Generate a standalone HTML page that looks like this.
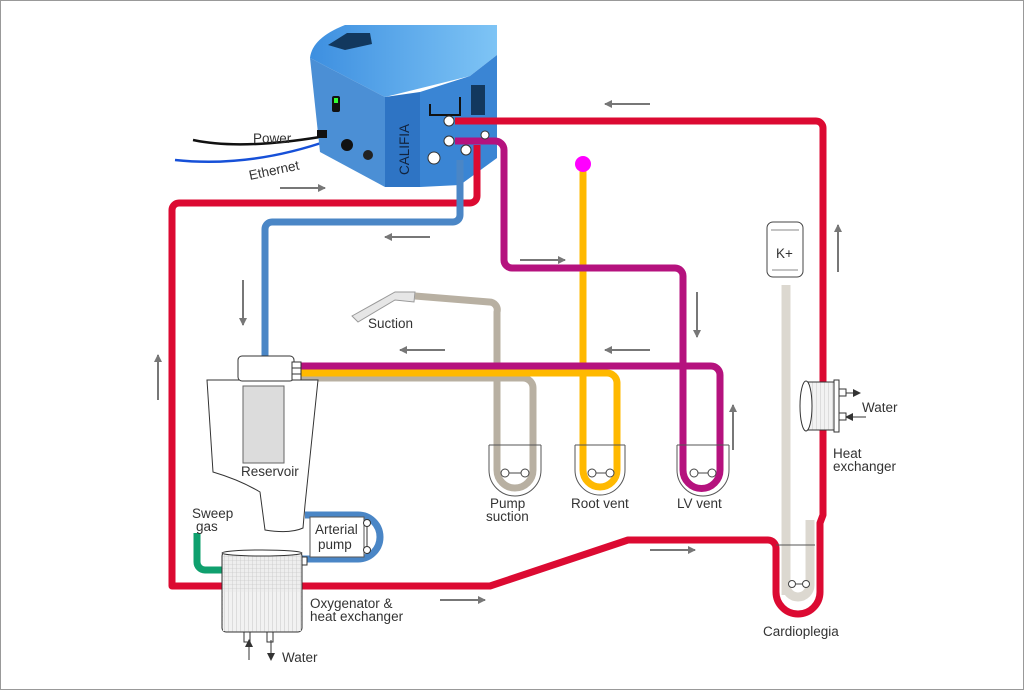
<!DOCTYPE html>
<html><head><meta charset="utf-8"><style>
html,body{margin:0;padding:0;background:#fff;}
svg{display:block;font-family:"Liberation Sans",sans-serif;}
text{fill:#333;font-size:13.5px;}
</style></head><body>
<svg width="1024" height="690" viewBox="0 0 1024 690" xmlns="http://www.w3.org/2000/svg">
<defs>
<marker id="ah" markerWidth="8" markerHeight="8" refX="7" refY="4" orient="auto" markerUnits="userSpaceOnUse"><path d="M0,0 L8,4 L0,8 z" fill="#777"/></marker>
<marker id="bh" markerWidth="8" markerHeight="8" refX="7" refY="4" orient="auto" markerUnits="userSpaceOnUse"><path d="M0,0 L8,4 L0,8 z" fill="#333"/></marker>
<linearGradient id="top" x1="0" y1="0" x2="1" y2="0"><stop offset="0" stop-color="#3d8fe0"/><stop offset="1" stop-color="#7ec4f5"/></linearGradient>
<pattern id="grid" width="4" height="4" patternUnits="userSpaceOnUse"><rect width="4" height="4" fill="#eee"/><path d="M0,0H4M0,0V4" stroke="#bbb" stroke-width="0.6"/></pattern>
<pattern id="vl" width="4" height="4" patternUnits="userSpaceOnUse"><rect width="4" height="4" fill="#f2f2f2"/><path d="M0,0V4" stroke="#aaa" stroke-width="0.6"/></pattern>
</defs>
<rect x="0.5" y="0.5" width="1023" height="689" fill="#fff" stroke="#999"/>

<!-- cables -->
<path d="M193,140 Q240,150 320,137" stroke="#111" stroke-width="2.5" fill="none"/>
<path d="M175,160 Q250,168 330,140" stroke="#1650d8" stroke-width="2.5" fill="none"/>
<text x="253" y="143">Power</text>
<text x="250" y="180" transform="rotate(-12 250 180)">Ethernet</text>

<!-- device -->
<path d="M310,58 Q312,38 345,25 H497 V55 L470,76 L385,97 Z" fill="url(#top)"/>
<path d="M328,45 L347,33 H370 L372,44 L345,50 Z" fill="#12385e"/>
<path d="M310,58 L385,97 V187 L320,152 Z" fill="#4b8fd5"/>
<path d="M385,97 L420,92 V187 L385,187 Z" fill="#2e74c4"/>
<path d="M420,92 L470,76 L497,55 V158 L460,185 L420,187 Z" fill="#3a85d4"/>
<rect x="471" y="85" width="14" height="30" fill="#12385e"/>
<rect x="332" y="96" width="8" height="16" rx="2" fill="#111"/>
<rect x="334" y="98" width="4" height="5" fill="#3f3"/>
<circle cx="347" cy="145" r="6" fill="#111"/><circle cx="368" cy="155" r="5" fill="#222"/>
<rect x="317" y="130" width="10" height="8" fill="#111"/>
<text x="409" y="175" transform="rotate(-90 409 175)" font-size="14" style="fill:#12233d">CALIFIA</text>
<path d="M430,104 V115 H460 V97" stroke="#111" stroke-width="2" fill="none"/>

<!-- cardioplegia gray tube -->
<path d="M786,285 V595" stroke="#dcd8d0" stroke-width="9" fill="none"/>
<path d="M786,585 a12,12 0 0 0 24,0 V520" stroke="#dcd8d0" stroke-width="9" fill="none"/>

<!-- red line -->
<path d="M455,121 H816 a7,7 0 0 1 7,7 V515 l-3,8 V592 a22,22 0 0 1 -44,0 V548 a8,8 0 0 0 -8,-8 H628 L490,586 H172 V210 a7,7 0 0 1 7,-7 H470 a7,7 0 0 0 7,-7 V145" stroke="#dc0a32" stroke-width="7" fill="none" stroke-linejoin="round"/>

<!-- blue -->
<path d="M460,160 V215 a7,7 0 0 1 -7,7 H272 a7,7 0 0 0 -7,7 V358" stroke="#4a86c6" stroke-width="7" fill="none"/>

<!-- gray suction -->
<path d="M300,378 H523 a10,10 0 0 1 10,10 V470 a18,18 0 0 1 -36,0 V312 a8,8 0 0 0 -8,-10 L415,296" stroke="#b8b0a2" stroke-width="7" fill="none"/>
<path d="M352,316 L395,292 L415,292 L414,302 L395,300 L358,322 z" fill="#e6e6e6" stroke="#999"/>

<!-- yellow -->
<path d="M300,373 H607 a10,10 0 0 1 10,10 V470 a17,17 0 0 1 -34,0 V165" stroke="#ffb900" stroke-width="7" fill="none"/>
<circle cx="583" cy="164" r="8" fill="#f0f"/>

<!-- magenta -->
<path d="M455,141 H495 a9,9 0 0 1 9,9 V260 a8,8 0 0 0 8,8 H675 a8,8 0 0 1 8,8 V470 a18,18 0 0 0 37,0 V375 a9,9 0 0 0 -9,-9 H300" stroke="#b5127e" stroke-width="7" fill="none"/>

<!-- device ports over tubes -->
<circle cx="449" cy="121" r="5" fill="#fff" stroke="#333"/>
<circle cx="449" cy="141" r="5" fill="#fff" stroke="#333"/>
<circle cx="434" cy="158" r="6" fill="#fff" stroke="#333"/>
<circle cx="466" cy="150" r="5" fill="#fff" stroke="#333"/>
<circle cx="485" cy="135" r="4" fill="#fff" stroke="#333"/>

<!-- pump housings -->
<g fill="none" stroke="#555" stroke-width="1">
<path d="M489,445 V470 a26,26 0 0 0 52,0 V445 M489,445 H541"/>
<path d="M575,445 V470 a25,25 0 0 0 50,0 V445 M575,445 H625"/>
<path d="M677,445 V470 a26,26 0 0 0 52,0 V445 M677,445 H729"/>
<path d="M776,545 H815"/>
</g>
<g fill="#fff" stroke="#444" stroke-width="1">
<path d="M505,473 H525"/><circle cx="505" cy="473" r="4"/><circle cx="525" cy="473" r="4"/>
<path d="M592,473 H610"/><circle cx="592" cy="473" r="4"/><circle cx="610" cy="473" r="4"/>
<path d="M694,473 H712"/><circle cx="694" cy="473" r="4"/><circle cx="712" cy="473" r="4"/>
<path d="M792,584 H806"/><circle cx="792" cy="584" r="3.5"/><circle cx="806" cy="584" r="3.5"/>
</g>

<!-- K+ bag -->
<rect x="767" y="222" width="36" height="55" rx="6" fill="#fff" stroke="#444"/>
<path d="M771,230 H799 M772,270 H798" stroke="#888"/>
<text x="776" y="258" font-size="13">K+</text>

<!-- heat exchanger -->
<rect x="806" y="382" width="30" height="48" fill="url(#vl)" stroke="#333"/>
<ellipse cx="806" cy="406" rx="6" ry="25" fill="#fff" stroke="#333"/>
<rect x="834" y="380" width="5" height="52" fill="#fff" stroke="#333"/>
<path d="M840,393 H860" stroke="#333" marker-end="url(#bh)"/>
<path d="M866,417 H846" stroke="#333" marker-end="url(#bh)"/>
<rect x="839" y="389" width="7" height="7" fill="#fff" stroke="#333"/>
<rect x="839" y="413" width="7" height="7" fill="#fff" stroke="#333"/>
<text x="862" y="412">Water</text>
<text x="833" y="458">Heat</text>
<text x="833" y="471">exchanger</text>
<text x="763" y="636">Cardioplegia</text>

<!-- arterial pump -->
<path d="M305,515 H358 a22,22 0 0 1 0,44 H302" stroke="#4a86c6" stroke-width="7" fill="none"/>
<rect x="310" y="517" width="54" height="40" fill="#fff" stroke="#555"/>
<text x="315" y="534">Arterial</text>
<text x="318" y="549">pump</text>
<path d="M367,523 V550" stroke="#333"/>
<circle cx="367" cy="523" r="3.5" fill="#fff" stroke="#333"/><circle cx="367" cy="550" r="3.5" fill="#fff" stroke="#333"/>

<!-- sweep gas -->
<path d="M197,533 V562 a8,8 0 0 0 8,8 H222" stroke="#0fa06e" stroke-width="7" fill="none"/>
<text x="192" y="518">Sweep</text>
<text x="196" y="531">gas</text>

<!-- reservoir -->
<path d="M207,380 H318 L305,505 L303,528 Q290,534 265,530 L260,492 Q240,480 213,472 z" fill="#fff" stroke="#333"/>
<rect x="243" y="386" width="41" height="77" fill="#dcdcdc" stroke="#666"/>
<rect x="238" y="356" width="56" height="25" rx="4" fill="#fff" stroke="#333"/>
<rect x="292" y="362" width="9" height="6" fill="#fff" stroke="#333"/>
<rect x="292" y="368" width="9" height="6" fill="#fff" stroke="#333"/>
<rect x="292" y="374" width="9" height="6" fill="#fff" stroke="#333"/>
<text x="241" y="476">Reservoir</text>

<!-- oxygenator -->
<rect x="222" y="552" width="80" height="80" rx="4" fill="url(#grid)" stroke="#333"/>
<rect x="223" y="592" width="78" height="39" fill="url(#vl)"/>
<ellipse cx="262" cy="553" rx="40" ry="3" fill="#fff" stroke="#333"/>
<rect x="302" y="557" width="5" height="8" fill="#fff" stroke="#333"/>
<rect x="244" y="632" width="6" height="10" fill="#fff" stroke="#333"/>
<rect x="267" y="632" width="6" height="10" fill="#fff" stroke="#333"/>
<path d="M249,660 V640" stroke="#333" marker-end="url(#bh)"/>
<path d="M271,640 V660" stroke="#333" marker-end="url(#bh)"/>
<text x="282" y="662">Water</text>
<text x="310" y="608">Oxygenator &amp;</text>
<text x="310" y="621">heat exchanger</text>

<text x="368" y="328">Suction</text>
<text x="490" y="508">Pump</text>
<text x="486" y="521">suction</text>
<text x="571" y="508">Root vent</text>
<text x="677" y="508">LV vent</text>

<!-- arrows -->
<g stroke="#777" stroke-width="2" marker-end="url(#ah)">
<path d="M280,188 H325"/><path d="M430,237 H385"/><path d="M243,280 V325"/>
<path d="M158,400 V355"/><path d="M520,260 H565"/><path d="M697,292 V337"/>
<path d="M445,350 H400"/><path d="M650,350 H605"/><path d="M733,450 V405"/>
<path d="M650,104 H605"/><path d="M838,272 V225"/><path d="M650,550 H695"/>
<path d="M440,600 H485"/>
</g>
</svg>
</body></html>
